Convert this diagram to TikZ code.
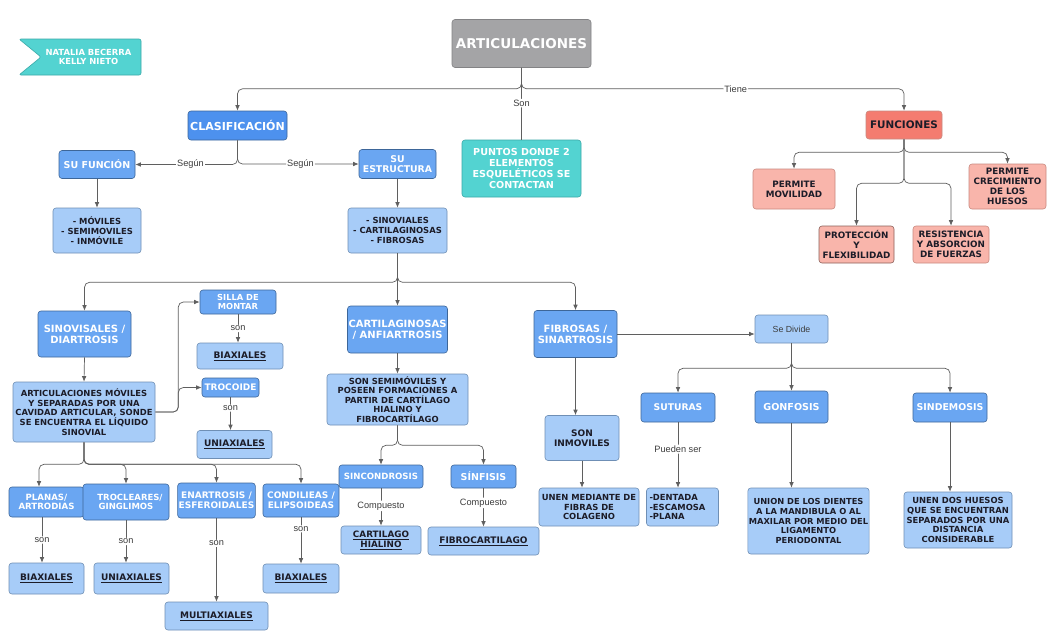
\documentclass[tikz,border=0pt]{standalone}
\usepackage{fontspec}
\setmainfont{DejaVu Sans}
\newfontfamily\labfont{Liberation Sans}
\usetikzlibrary{arrows.meta,calc}
\newcommand\myfs[2]{\fontsize{#1}{#2}\selectfont}
\definecolor{midblue}{HTML}{6AA6F2}
\definecolor{clasblue}{HTML}{4D91EE}
\definecolor{midborder}{HTML}{3D6699}
\definecolor{liteblue}{HTML}{A7CCF8}
\definecolor{liteborder}{HTML}{6F8FB5}
\definecolor{tealc}{HTML}{53D3D1}
\definecolor{tealborder}{HTML}{3AA9A8}
\definecolor{grayc}{HTML}{A4A4A6}
\definecolor{salmon}{HTML}{F47C70}
\definecolor{lsalmon}{HTML}{F9B5AB}
\definecolor{salborder}{HTML}{C98A80}
\definecolor{txt}{HTML}{1C1C28}
\definecolor{linec}{HTML}{5F5F5F}
\definecolor{labc}{HTML}{3C3C3C}
\tikzset{
  sz/.style 2 args={minimum width=#1pt, minimum height=#2pt},
  base/.style={draw, rounded corners=3pt, align=center, inner sep=1pt, line width=0.6pt},
  mid/.style={base, fill=midblue, draw=midborder, text=white, font=\bfseries\myfs{10}{11}},
  midS/.style={mid, font=\bfseries\myfs{9}{9.8}},
  lite/.style={base, fill=liteblue, draw=liteborder, text=txt, font=\bfseries\myfs{8.4}{9.8}},
  liteU/.style={lite, font=\bfseries\myfs{9}{10.5}},
  litereg/.style={lite, font=\labfont\myfs{8.8}{9.5}, text=labc},
  sal/.style={base, fill=salmon, draw=salborder, text=txt, font=\bfseries\myfs{10.4}{11}},
  lsal/.style={base, fill=lsalmon, draw=salborder, text=txt, font=\bfseries\myfs{8.8}{10.2}},
  tealbox/.style={base, fill=tealc, draw=tealborder, text=white, font=\bfseries\myfs{9.6}{10.8}},
  titlebox/.style={base, fill=grayc, draw=grayc!80!black, text=white, font=\bfseries\myfs{13.5}{15}},
  line/.style={draw=linec, line width=0.7pt, rounded corners=5pt},
  con/.style={line, -{Latex[length=5.5pt,width=4.5pt]}},
  lbl/.style={fill=white, inner sep=1pt, text=labc, font=\labfont\myfs{9.2}{10}},
}
\begin{document}
\begin{tikzpicture}[x=1pt,y=-1pt]
\useasboundingbox (0,0) rectangle (1054,640);
\fill[white] (0,0) rectangle (1054,640);

% author flag
\filldraw[fill=tealc, draw=tealborder, line width=0.6pt, rounded corners=2pt]
  (19,39) -- (141,39) -- (141,75) -- (19,75) -- (41,57) -- cycle;
\node[font=\bfseries\myfs{8.4}{9.6}, text=white, align=center] (auth) at (88.5,57) {NATALIA BECERRA\\KELLY NIETO};

% top
\node[titlebox, sz={139}{48}] (art) at (521.5,43.5) {ARTICULACIONES};
\node[mid, fill=clasblue, sz={99}{29}, font=\bfseries\myfs{11}{12}] (clas) at (237.5,125.5) {CLASIFICACIÓN};
\node[mid, sz={76}{28}, font=\bfseries\myfs{9.5}{10.5}] (sufun) at (97,164.5) {SU FUNCIÓN};
\node[mid, sz={77}{29}, font=\bfseries\myfs{9.3}{10.3}] (suest) at (397.5,164) {SU\\ESTRUCTURA};
\node[lite, sz={88}{45}] (mov) at (97,230.5) {- MÓVILES\\- SEMIMOVILES\\- INMÓVILE};
\node[lite, sz={99}{45}] (sinov) at (397.5,230.5) {- SINOVIALES\\- CARTILAGINOSAS\\- FIBROSAS};
\node[tealbox, sz={119}{57}] (puntos) at (521.5,168.5) {PUNTOS DONDE 2\\ELEMENTOS\\ESQUELÉTICOS SE\\CONTACTAN};

% funciones
\node[sal, sz={76}{28}] (func) at (904,125) {FUNCIONES};
\node[lsal, sz={82}{40}] (pmov) at (794,189) {PERMITE\\MOVILIDAD};
\node[lsal, sz={77}{45}] (pcrec) at (1007.5,186.5) {PERMITE\\CRECIMIENTO\\DE LOS\\HUESOS};
\node[lsal, sz={75}{37}, draw=salborder!70!black] (prot) at (856.5,244.5) {PROTECCIÓN\\Y\\FLEXIBILIDAD};
\node[lsal, sz={76}{37}] (resis) at (951,244.5) {RESISTENCIA\\Y ABSORCION\\DE FUERZAS};

% sinoviales
\node[mid, sz={93}{46}] (sinovd) at (84.5,334) {SINOVISALES /\\DIARTROSIS};
\node[lite, sz={142}{60}] (artmov) at (84,412) {ARTICULACIONES MÓVILES\\Y SEPARADAS POR UNA\\CAVIDAD ARTICULAR, SONDE\\SE ENCUENTRA EL LÍQUIDO\\SINOVIAL};
\node[midS, sz={76}{24}, font=\bfseries\myfs{8.3}{9}] (silla) at (238,302) {SILLA DE\\MONTAR};
\node[liteU, sz={86}{26}] (biax1) at (240,356) {\underline{BIAXIALES}};
\node[midS, sz={57}{19}] (troc) at (230.5,387.5) {TROCOIDE};
\node[liteU, sz={75}{28}] (uniax1) at (234.5,444.5) {\underline{UNIAXIALES}};
\node[midS, sz={75}{30}, font=\bfseries\myfs{8.6}{9.6}] (planas) at (46.5,502) {PLANAS/\\ARTRODIAS};
\node[midS, sz={86}{36}, font=\bfseries\myfs{8.5}{9.6}] (trocl) at (126,502) {\hspace*{8pt}TROCLEARES/\\GINGLIMOS};
\node[midS, sz={75}{35}] (enar) at (216.5,500.5) {ENARTROSIS /\\ESFEROIDALES};
\node[midS, sz={76}{33}] (cond) at (301,500.5) {CONDILIEAS /\\ELIPSOIDEAS};
\node[liteU, sz={75}{31}] (biax2) at (46.5,578.5) {\underline{BIAXIALES}};
\node[liteU, sz={75}{31}] (uniax2) at (131.5,578.5) {\underline{UNIAXIALES}};
\node[liteU, sz={103}{28}] (multi) at (216.5,616) {\underline{MULTIAXIALES}};
\node[liteU, sz={76}{29}] (biax3) at (301,578.5) {\underline{BIAXIALES}};

% cartilaginosas
\node[mid, sz={99}{47}] (cart) at (397.5,329.5) {CARTILAGINOSAS\\/ ANFIARTROSIS};
\node[lite, sz={141}{51}, font=\bfseries\myfs{8.4}{9.4}] (semi) at (397.5,399.5) {SON SEMIMÓVILES Y\\POSEEN FORMACIONES A\\PARTIR DE CARTÍLAGO\\HIALINO Y\\FIBROCARTÍLAGO};
\node[midS, sz={84}{23}, font=\bfseries\myfs{8.6}{9.5}] (sincon) at (381,476.5) {SINCONDROSIS};
\node[midS, sz={65}{23}, font=\bfseries\myfs{9.5}{10}] (sinf) at (483.5,476.5) {SÍNFISIS};
\node[liteU, sz={80}{28}, font=\bfseries\myfs{8.8}{10}] (hial) at (381,540) {\underline{CARTILAGO}\\\underline{HIALINO}};
\node[liteU, sz={111}{28}] (fibroc) at (483.5,541) {\underline{FIBROCARTILAGO}};

% fibrosas
\node[mid, sz={83}{47}] (fibro) at (575.5,334) {FIBROSAS /\\SINARTROSIS};
\node[litereg, sz={73}{28}] (sedivide) at (791.5,329) {Se Divide};
\node[lite, sz={74}{45}, font=\bfseries\myfs{9}{10.5}] (inmov) at (582,438) {SON\\INMOVILES};
\node[lite, sz={100}{38}] (unenmed) at (589,507) {UNEN MEDIANTE DE\\FIBRAS DE\\COLAGENO};
\node[mid, sz={74}{29}, font=\bfseries\myfs{9.2}{10}] (sut) at (678,407.5) {SUTURAS};
\node[mid, sz={73}{32}, font=\bfseries\myfs{9.6}{10}] (gonf) at (791.5,407) {GONFOSIS};
\node[mid, sz={74}{29}, font=\bfseries\myfs{9.4}{10}] (sind) at (950,407.5) {SINDEMOSIS};
\node[lite, sz={72}{38}, text width=66pt, align=left] (dent) at (682.5,507) {-DENTADA\\-ESCAMOSA\\-PLANA};
\node[lite, sz={121}{66}, font=\bfseries\myfs{8.3}{9.8}] (union) at (808.5,521) {UNION DE LOS DIENTES\\A LA MANDIBULA O AL\\MAXILAR POR MEDIO DEL\\LIGAMENTO\\PERIODONTAL};
\node[lite, sz={108}{56}] (unendos) at (958,520) {UNEN DOS HUESOS\\QUE SE ENCUENTRAN\\SEPARADOS POR UNA\\DISTANCIA\\CONSIDERABLE};

% connectors: top
\draw[con] (art.south) -- ++(0,21) -| (clas.north);
\draw[con] (art.south) -- ++(0,21) -| node[lbl, pos=0.28]{Tiene} (func.north);
\draw[line] (art.south) -- node[lbl, pos=0.49]{Son} (puntos.north);
\draw[con] (clas.south) |- node[lbl, pos=0.73]{Según} (sufun.east);
\draw[con] (clas.south) |- node[lbl, pos=0.76]{Según} (suest.west);
\draw[con] (sufun.south) -- (mov.north);
\draw[con] (suest.south) -- (sinov.north);
\draw[con] (sinov.south) -- ++(0,29) -| (sinovd.north);
\draw[con] (sinov.south) -- (cart.north);
\draw[con] (sinov.south) -- ++(0,29) -| (fibro.north);

% funciones
\draw[con] (func.south) -- ++(0,13) -| (pmov.north);
\draw[con] (func.south) -- ++(0,13) -| (pcrec.north);
\draw[con] (func.south) -- ++(0,44) -| (prot.north);
\draw[con] (func.south) -- ++(0,44) -| (resis.north);

% sinoviales
\draw[con] (sinovd.south) -- (artmov.north);
\draw[con] (artmov.east) -- ++(23,0) |- (silla.west);
\draw[con] (artmov.east) -- ++(23,0) |- (troc.west);
\draw[con] (silla.south) -- node[lbl]{son} (silla.south |- biax1.north);
\draw[con] (troc.south) -- node[lbl, pos=0.33]{son} (troc.south |- uniax1.north);
\draw[con] (artmov.south) -- ++(0,22) -| ([xshift=-7.5pt]planas.north);
\draw[con] (artmov.south) -- ++(0,22) -| (trocl.north);
\draw[con] (artmov.south) -- ++(0,22) -| (enar.north);
\draw[con] (artmov.south) -- ++(0,22) -| (cond.north);
\draw[con] ([xshift=-4.5pt]planas.south) -- node[lbl]{son} ([xshift=-4.5pt]biax2.north);
\draw[con] (trocl.south) -- node[lbl]{son} (trocl.south |- uniax2.north);
\draw[con] (enar.south) -- node[lbl, pos=0.3]{son} (enar.south |- multi.north);
\draw[con] (cond.south) -- node[lbl, pos=0.25]{son} (biax3.north);

% cartilaginosas
\draw[con] (cart.south) -- (semi.north);
\draw[con] (semi.south) -- ++(0,20) -| (sincon.north);
\draw[con] (semi.south) -- ++(0,20) -| (sinf.north);
\draw[con] (sincon.south) -- node[lbl, pos=0.47]{Compuesto} (hial.north);
\draw[con] (sinf.south) -- node[lbl, pos=0.38]{Compuesto} (fibroc.north);

% fibrosas
\draw[con] (fibro.east) -- (fibro.east -| sedivide.west);
\draw[con] (fibro.south) -- (fibro.south |- inmov.north);
\draw[con] (inmov.south) -- (inmov.south |- unenmed.north);
\draw[con] (sedivide.south) -- ++(0,25) -| (sut.north);
\draw[con] (sedivide.south) -- (gonf.north);
\draw[con] (sedivide.south) -- ++(0,25) -| (sind.north);
\draw[con] (sut.south) -- node[lbl, pos=0.41]{Pueden ser} (sut.south |- dent.north);
\draw[con] (gonf.south) -- (gonf.south |- union.north);
\draw[con] (sind.south) -- (sind.south |- unendos.north);
\end{tikzpicture}
\end{document}
